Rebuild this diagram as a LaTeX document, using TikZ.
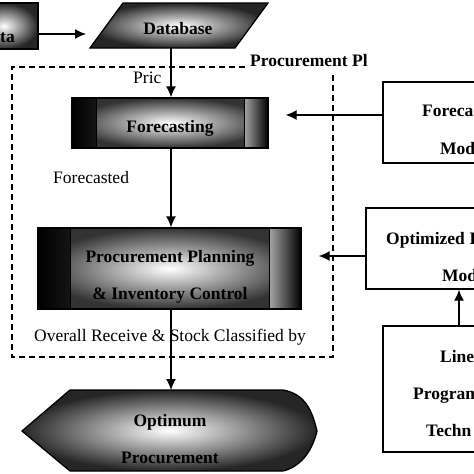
\documentclass[tikz,border=0pt]{standalone}
\usepackage{fontspec}
\setmainfont{Liberation Serif}
\usepackage{tikz}
\usetikzlibrary{arrows.meta}

\begin{document}
\begin{tikzpicture}[x=1pt,y=-1pt,
    txt/.style={inner sep=0pt,font=\fontsize{17.5}{21}\selectfont},
    btxt/.style={inner sep=0pt,font=\fontsize{17.5}{37}\selectfont\bfseries},
    gbox/.style={draw,line width=1.3pt,inner color=white,outer color=black!85},
    wbox/.style={draw,line width=1.3pt,fill=white,inner sep=0pt},
    predef/.style={draw,line width=1.3pt,inner color=white,outer color=black!80,
      path picture={
        \shade[left color=black,right color=gray!70] (path picture bounding box.south west) rectangle ([xshift=#1]path picture bounding box.north west);
        \shade[left color=gray!70,right color=black] ([xshift=-#1]path picture bounding box.south east) rectangle (path picture bounding box.north east);
        \draw[line width=1pt] ([xshift=#1]path picture bounding box.south west) -- ([xshift=#1]path picture bounding box.north west);
        \draw[line width=1pt] ([xshift=-#1]path picture bounding box.south east) -- ([xshift=-#1]path picture bounding box.north east);
      }},
    arr/.style={line width=1.3pt,-{Latex[length=11pt,width=10pt]}},
    dashbox/.style={line width=1.3pt,dash pattern=on 6pt off 4pt}]
  \useasboundingbox (0,0) rectangle (474,474);
  \fill[white] (0,0) rectangle (474,474);
  \clip (0,0) rectangle (474,474);

  % procurement planning frame
  \draw[dashbox] (245,67) -- (12,67) -- (12,357) -- (333,357) -- (333,72);
  \node[btxt,anchor=base west] (frame) at (250,66) {Procurement Pl};

  % data and database
  \node[gbox,minimum width=68pt,minimum height=46pt] (data) at (4,26) {};
  \node[btxt,anchor=base west] (datatxt) at (0,42) {ta};
  \path[gbox] (90,48) -- (235,48) -- (268,3) -- (123,3) -- cycle;
  \node[btxt] (db) at (178,29) {Database};
  \coordinate (dbin) at (86,34);
  \coordinate (dbout) at (171,48);

  % main flow
  \node[predef=24pt,minimum width=196pt,minimum height=50pt] (fc) at (170,123) {};
  \node[btxt] (fctxt) at (170,128) {Forecasting};
  \node[predef=32pt,minimum width=263pt,minimum height=81pt] (pp) at (169.5,268.5) {};
  \node[btxt,align=center] (pptxt) at (170,277) {Procurement Planning\\\& Inventory Control};
  \path[gbox] (22,431) -- (70,390) -- (283,390) .. controls (305,394) and (312,410) .. (317,431)
    .. controls (312,452) and (300,467) .. (283,471) -- (70,471) -- cycle;
  \node[btxt,align=center] (opt) at (170,439) {Optimum\\Procurement};
  \coordinate (opttop) at (170,390);

  % models on the right
  \node[wbox,minimum width=162pt,minimum height=81pt] (fm) at (464,122.5) {};
  \node[btxt,anchor=base west] (fm1) at (422,116) {Foreca};
  \node[btxt,anchor=base west] (fm2) at (440,154) {Mod};
  \node[wbox,minimum width=186pt,minimum height=81pt] (om) at (459,248.5) {};
  \node[btxt,anchor=base west] (om1) at (386,244) {Optimized I};
  \node[btxt,anchor=base west] (om2) at (442,281) {Mod};
  \node[wbox,minimum width=152pt,minimum height=126pt] (lp) at (459,389) {};
  \node[btxt,anchor=base west] (lp1) at (440,362) {Line};
  \node[btxt,anchor=base west] (lp2) at (413,399) {Program};
  \node[btxt,anchor=base west] (lp3) at (426,436) {Techn};

  % labels
  \node[txt,anchor=base west] (pric) at (133,83) {Pric};
  \node[txt,anchor=west] (fcd) at (53,178) {Forecasted};
  \node[txt] (overall) at (170,337) {Overall Receive \& Stock Classified by};

  % connectors
  \draw[arr] (data.east |- dbin) -- (dbin);
  \draw[arr] (dbout) -- (dbout |- fc.north);
  \draw[arr] ([yshift=7.5pt]fm.west) -- ([xshift=17pt,yshift=8pt]fc.east);
  \draw[arr] (fc.south -| dbout) -- (pp.north -| dbout);
  \draw[arr] ([yshift=-7.5pt]om.west) -- ([xshift=17pt,yshift=12.5pt]pp.east);
  \draw[arr] (lp.north) -- (om.south);
  \draw[arr] (pp.south -| dbout) -- (opttop -| dbout);
\end{tikzpicture}
\end{document}
